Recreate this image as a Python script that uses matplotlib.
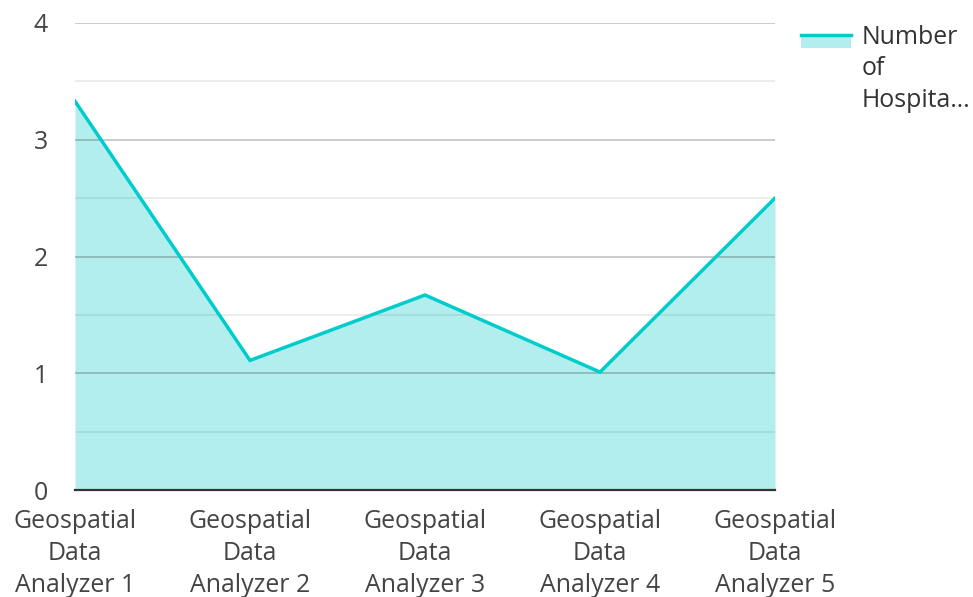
import matplotlib
matplotlib.use("Agg")
import matplotlib.pyplot as plt
from matplotlib.patches import Rectangle
from matplotlib.lines import Line2D

plt.rcParams['font.family'] = ['Open Sans', 'DejaVu Sans']

categories = ["Geospatial\nData\nAnalyzer 1", "Geospatial\nData\nAnalyzer 2",
              "Geospatial\nData\nAnalyzer 3", "Geospatial\nData\nAnalyzer 4",
              "Geospatial\nData\nAnalyzer 5"]
values = [3.33, 1.11, 1.67, 1.01, 2.5]
series_label = "Number\nof\nHospita…"
y_ticks = [0, 1, 2, 3, 4]
minor_ticks = [0.5, 1.5, 2.5, 3.5]

line_color = "#00cccc"
fill_color = "#b2eeee"
text_color = "#333333"
FS = 17.9
LS = 1.35

fig = plt.figure(figsize=(9.73, 5.97), dpi=100)
ax = fig.add_axes([75/973, 1 - 490/597, 700/973, 467/597])

x = list(range(len(categories)))
ax.fill_between(x, 0, values, color=fill_color, linewidth=0, zorder=1)
ax.plot(x, values, color=line_color, linewidth=2.5, zorder=4, solid_joinstyle='miter')

ax.set_xlim(0, len(categories) - 1)
ax.set_ylim(0, 4)
ax.set_yticks(y_ticks)
ax.set_yticklabels([str(t) for t in y_ticks])
ax.set_xticks(x)
ax.set_xticklabels(categories, linespacing=LS)

for t in y_ticks[1:]:
    ax.axhline(t, color="black", alpha=0.22, linewidth=1.3, zorder=2)
for t in minor_ticks:
    ax.axhline(t, color="black", alpha=0.08, linewidth=1.3, zorder=2)

for s in ["top", "right", "left"]:
    ax.spines[s].set_visible(False)
ax.spines["bottom"].set_color(text_color)
ax.spines["bottom"].set_linewidth(1.6)
ax.spines["bottom"].set_zorder(5)

ax.tick_params(axis='both', which='both', length=0, labelsize=FS, labelcolor="#444444")
ax.tick_params(axis='y', pad=19.5)
ax.tick_params(axis='x', pad=14)
for lab in ax.get_yticklabels():
    lab.set_verticalalignment('center_baseline')

# legend drawn manually in figure pixel coordinates
W, H = 973, 597
fig.add_artist(Rectangle((801/W, 1 - 48/H), 50/W, 14/H, transform=fig.transFigure,
                         facecolor=fill_color, edgecolor='none'))
fig.add_artist(Line2D([801/W, 851/W], [1 - 35/H, 1 - 35/H], transform=fig.transFigure,
                      color=line_color, linewidth=2.5))
fig.text(862/W, 1 - 107/H, series_label, fontsize=FS, color=text_color,
         ha='left', va='baseline', linespacing=LS)

fig.savefig("out.png", dpi=100, facecolor="white")
